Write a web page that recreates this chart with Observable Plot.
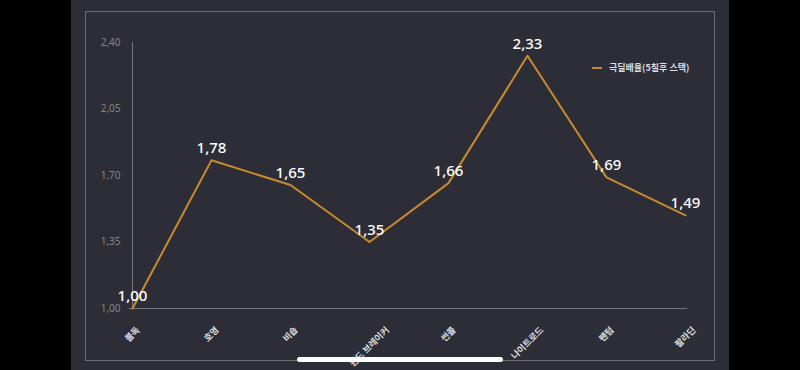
<!DOCTYPE html>
<html>
<head>
<meta charset="utf-8">
<script src="https://cdn.jsdelivr.net/npm/d3@7"></script>
<script src="https://cdn.jsdelivr.net/npm/@observablehq/plot@0.6"></script>
<style>
  html, body { margin: 0; padding: 0; background: #000; }
  #wrap { position: relative; width: 800px; height: 370px; overflow: hidden; background: #000; }
  #panel { position: absolute; left: 71px; top: 0; width: 658px; height: 370px; background: #2c2d36; }
  #border { position: absolute; left: 85px; top: 11px; width: 628px; height: 348px; border: 1px solid #6c6c72; }
  #chart { position: absolute; left: 0; top: 0; }
  #legend { position: absolute; left: 592px; top: 61px; display: flex; align-items: center;
            font-family: "Noto Sans CJK KR", sans-serif; font-size: 9px; font-weight: 700; color: #dcdcdc; }
  #legend .sw { width: 10px; height: 2px; background: #c98a2e; margin-right: 7px; }
  #home { position: absolute; left: 297px; top: 357px; width: 206px; height: 5px; border-radius: 3px; background: #fff; }
</style>
</head>
<body>
<div id="wrap">
  <div id="panel"></div>
  <div id="border"></div>
  <div id="chart"></div>
  <div id="legend"><div class="sw"></div><span id="legendText"></span></div>
  <div id="home"></div>
</div>
<script>
const categories = ["불독", "호영", "비숍", "윈드 브레이커", "썬콜", "나이트로드", "팬텀", "팔라딘"];
const values = [1.00, 1.78, 1.65, 1.35, 1.66, 2.33, 1.69, 1.49];
const yTicks = [1.00, 1.35, 1.70, 2.05, 2.40];
const seriesName = "극딜배율(5칠후 스택)";

document.getElementById("legendText").textContent = seriesName;

const data = categories.map((c, i) => ({cat: c, v: values[i]}));
const fmt = d => d.toFixed(2).replace(".", ",");

const chart = Plot.plot({
  width: 800,
  height: 370,
  marginLeft: 129,
  marginRight: 113,
  marginTop: 42,
  marginBottom: 62,
  style: {background: "transparent", overflow: "visible"},
  x: {type: "point", domain: categories, padding: 0},
  y: {domain: [1, 2.4]},
  marks: [
    Plot.ruleX([categories[0]], {stroke: "#76767c", strokeWidth: 1}),
    Plot.ruleY([1], {stroke: "#76767c", strokeWidth: 1}),
    Plot.axisY({ticks: yTicks, tickSize: 0, tickPadding: 9, tickFormat: fmt, label: null,
      fill: "#85858c", fontSize: 10, fontFamily: "Noto Sans, sans-serif"}),
    Plot.axisX({tickSize: 0, tickPadding: 10, tickRotate: -45, textAnchor: "middle", label: null,
      fill: "#dedede", fontSize: 9, fontWeight: 700, fontFamily: "Noto Sans CJK KR, sans-serif"}),
    Plot.line(data, {x: "cat", y: "v", stroke: "#c98a2e", strokeWidth: 2}),
    Plot.text(data, {x: "cat", y: "v", text: d => fmt(d.v), dy: -12, fill: "#ffffff",
      fontSize: 15, fontWeight: 500, fontFamily: "Noto Sans, sans-serif"})
  ]
});
document.getElementById("chart").appendChild(chart);

// place rotated category labels so their upper end sits just below the axis
d3.select(chart).selectAll('[aria-label="x-axis tick label"] text').each(function() {
  const t = this.getAttribute("transform") || "";
  const m = t.match(/translate\(([-\d.]+),\s*([-\d.]+)\)/);
  if (!m) return;
  const L = this.getComputedTextLength();
  const x = +m[1];
  this.setAttribute("transform", `translate(${x},${318 + L * 0.3536}) rotate(-45)`);
});
</script>
</body>
</html>
